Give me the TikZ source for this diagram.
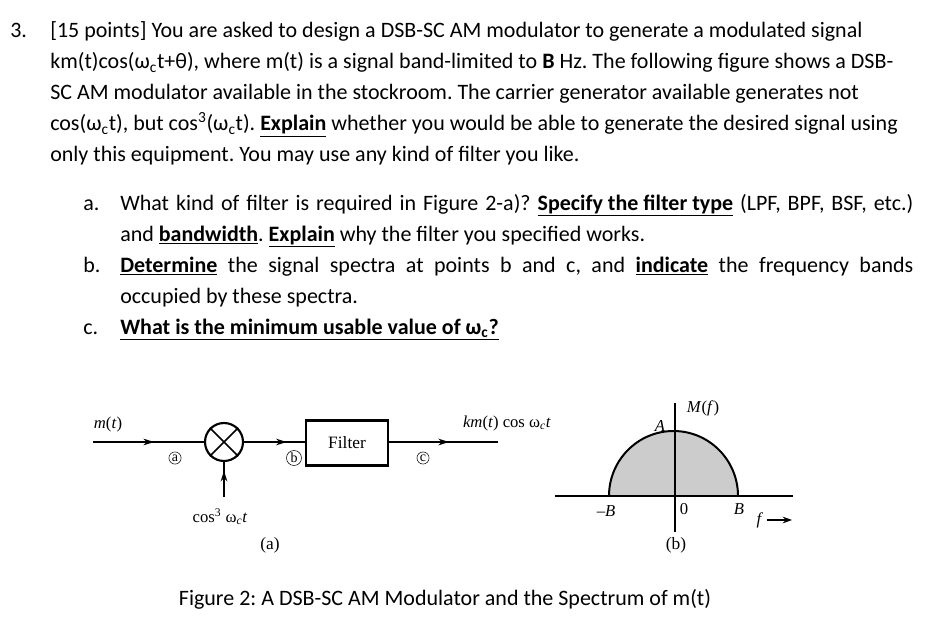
\documentclass[tikz,border=0pt]{standalone}
\usepackage{fontspec}
\setmainfont{Carlito}
\newfontfamily\dfont{Liberation Serif}
\usetikzlibrary{decorations.markings,arrows.meta}
\begin{document}
\frenchspacing
\begin{tikzpicture}[x=0.75pt,y=-0.75pt,
  txt/.style={anchor=base west,inner sep=0,font=\fontsize{16.5}{19}\selectfont},
  dl/.style={inner sep=0,font=\dfont\fontsize{12.5}{14}\selectfont},
  ln/.style={line width=0.9pt},
  midarr/.style={postaction={decorate},decoration={markings,mark=at position #1 with {\arrow{Stealth[length=8pt,width=5pt]}}}},
  pt/.style={circle,draw,inner sep=0.8pt,font=\dfont\fontsize{10.5}{11}\selectfont}]
\useasboundingbox (0,0) rectangle (930,627);
\newcommand{\B}[1]{\underline{\textbf{#1}}}
\node[txt] (n3) at (10,38) {3.};
\node[txt] (l1) at (50,38) {[15 points] You are asked to design a DSB-SC AM modulator to generate a modulated signal};
\node[txt] (l2) at (50,69) {km(t)cos(ω\textsubscript{c}t+θ), where m(t) is a signal band-limited to \textbf{B} Hz. The following figure shows a DSB-};
\node[txt] (l3) at (50,100) {SC AM modulator available in the stockroom. The carrier generator available generates not};
\node[txt] (l4) at (50,131) {cos(ω\textsubscript{c}t), but cos\textsuperscript{3}(ω\textsubscript{c}t). \B{Explain} whether you would be able to generate the desired signal using};
\node[txt] (l5) at (50,162) {only this equipment. You may use any kind of filter you like.};
\node[txt] (ia) at (83,210) {a.};
\node[txt] (a1) at (120,210) {\makebox[594.75pt][s]{What kind of filter is required in Figure 2-a)? \B{Specify the filter type} (LPF, BPF, BSF, etc.)}};
\node[txt] (a2) at (120,241) {and \B{bandwidth}. \B{Explain} why the filter you specified works.};
\node[txt] (ib) at (83,272) {b.};
\node[txt] (b1) at (120,272) {\makebox[594.75pt][s]{\B{Determine} the signal spectra at points b and c, and \B{indicate} the frequency bands}};
\node[txt] (b2) at (120,303) {occupied by these spectra.};
\node[txt] (ic) at (83,334) {c.};
\node[txt] (c1) at (120,334) {\B{What is the minimum usable value of ω\textsubscript{c}?}};
% block diagram
\coordinate (in) at (93,442);
\node[circle,draw,line width=1.6pt,minimum size=28.5pt,inner sep=0] (mix) at (224,442) {};
\draw[line width=1.3pt] (mix.45) -- (mix.225) (mix.135) -- (mix.315);
\coordinate (carr) at (224,497);
\node[draw,line width=1.6pt,minimum width=61.5pt,minimum height=33.75pt,inner sep=0,font=\dfont\fontsize{13}{15}\selectfont] (filt) at (347,443) {Filter};
\coordinate (out) at (498,442);
\draw[ln,midarr=0.55] (in) -- (mix);
\draw[ln,midarr=0.75] (carr) -- (mix);
\draw[ln,midarr=0.7] (mix) -- (filt.west |- mix);
\draw[ln,midarr=0.55] (filt.east |- mix) -- (out);
\node[dl] (mt) at (108,424) {\textit{m}(\textit{t})};
\node[pt] (pa) at (175,458) {a};
\node[pt] (pb) at (294,458) {b};
\node[pt] (pc) at (423,458) {c};
\node[dl] (cl) at (220,517) {cos\textsuperscript{3} ω\textsubscript{\textit{c}}\textit{t}};
\node[dl] (ol) at (507,423) {\textit{km}(\textit{t}) cos ω\textsubscript{\textit{c}}\textit{t}};
\node[dl,font=\dfont\fontsize{13}{15}\selectfont] (capa) at (270,545) {(a)};
% spectrum
\fill[gray!40] (609,496) arc[start angle=180,end angle=360,x radius=64.5,y radius=65];
\draw[line width=1.5pt] (609,496) arc[start angle=180,end angle=360,x radius=64.5,y radius=65];
\coordinate (h1) at (555,496); \coordinate (h2) at (793,496);
\coordinate (v1) at (675,403); \coordinate (v2) at (675,532);
\draw[ln] (h1) -- (h2);
\draw[ln] (v1) -- (v2);
\node[dl] (Mf) at (703,408) {\textit{M}(\textit{f})};
\node[dl] (A) at (660,426) {\textit{A}};
\node[dl] (mB) at (606,511) {\textit{–B}};
\node[dl] (z) at (684,509) {0};
\node[dl] (pB) at (739,509) {\textit{B}};
\node[dl] (f) at (760,520) {\textit{f}};
\coordinate (fa) at (792,520);
\draw[ln,-{Stealth[length=7pt,width=5pt]}] (f.east) ++(3,0) -- (fa);
\node[dl,font=\dfont\fontsize{13}{15}\selectfont] (capb) at (676,545) {(b)};
\node[txt,anchor=base] (cap) at (445,605) {Figure 2: A DSB-SC AM Modulator and the Spectrum of m(t)};
\end{tikzpicture}
\end{document}
